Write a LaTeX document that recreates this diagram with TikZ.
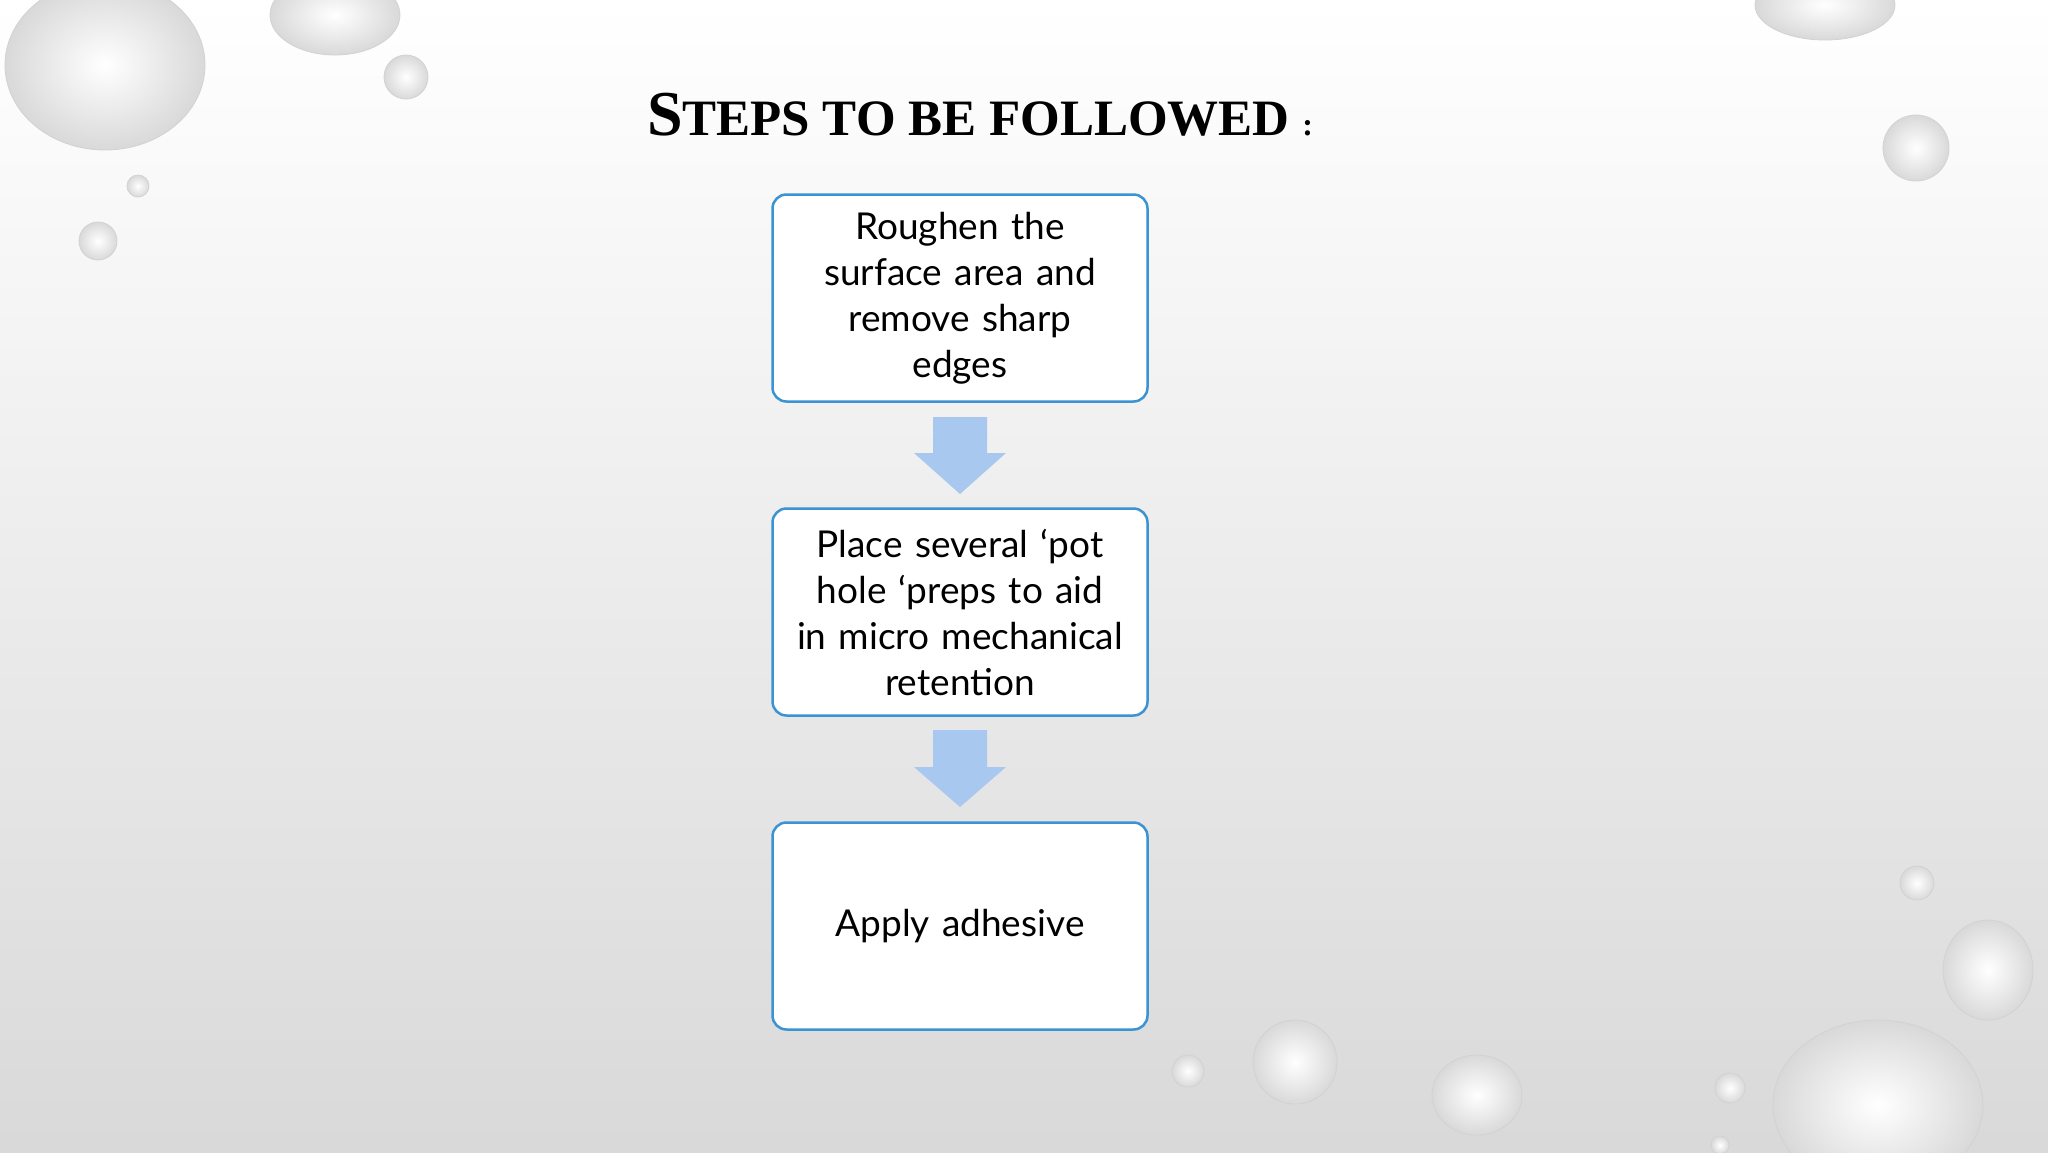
\documentclass[tikz,border=0pt]{standalone}
\usepackage{fontspec}
\setmainfont{Lato}
\newfontfamily\titlefont{Liberation Serif}
\begin{document}
\begin{tikzpicture}[x=1pt,y=-1pt,
  stepbox/.style={draw=boxblue,line width=2.5pt,rounded corners=14pt,fill=white,minimum width=375pt,minimum height=207pt,align=center,text width=345pt,font=\fontsize{37}{46}\selectfont},
  downarrow/.style={fill=arrowblue,draw=none},
  drop/.style={shade,inner color=white,outer color=gray!30,draw=gray!35,line width=0.8pt}]
\definecolor{boxblue}{HTML}{3A93D2}
\definecolor{arrowblue}{HTML}{A9C8F0}
\shade[top color=white,bottom color=gray!30] (0,0) rectangle (2048,1152);
\useasboundingbox (0,0) rectangle (2048,1152);
% drops
\draw[drop] (105,65) ellipse (100 and 85);
\draw[drop] (335,15) ellipse (65 and 40);
\draw[drop] (406,77) circle (22);
\draw[drop] (138,186) circle (11);
\draw[drop] (98,241) circle (19);
\draw[drop] (1825,5) ellipse (70 and 35);
\draw[drop] (1916,148) circle (33);
\draw[drop] (1917,883) circle (17);
\draw[drop] (1988,970) ellipse (45 and 50);
\draw[drop] (1878,1105) ellipse (105 and 85);
\draw[drop] (1730,1088) circle (15);
\draw[drop] (1477,1095) ellipse (45 and 40);
\draw[drop] (1295,1062) ellipse (42 and 42);
\draw[drop] (1188,1071) circle (16);
\draw[drop] (1720,1145) circle (9);
% title
\node (title) at (980,115) {\titlefont\bfseries\fontsize{64}{66}\selectfont S\fontsize{51}{54}\selectfont TEPS TO BE FOLLOWED \fontsize{32}{32}\selectfont:};
% boxes
\node[stepbox] (b1) at (960,298) {Roughen the\\ surface area and\\ remove sharp\\ edges};
\node[stepbox] (b2) at (960,612) {Place several ‘pot\\ hole ‘preps to aid\\ in micro mechanical\\ retention};
\node[stepbox] (b3) at (960,926) {Apply adhesive};
% arrows
\fill[downarrow] (933,417) -- (987,417) -- (987,453) -- (1006,453) -- (960,494) -- (914,453) -- (933,453) -- cycle;
\fill[downarrow] (933,730) -- (987,730) -- (987,767) -- (1006,767) -- (960,807) -- (914,767) -- (933,767) -- cycle;
\end{tikzpicture}
\end{document}
